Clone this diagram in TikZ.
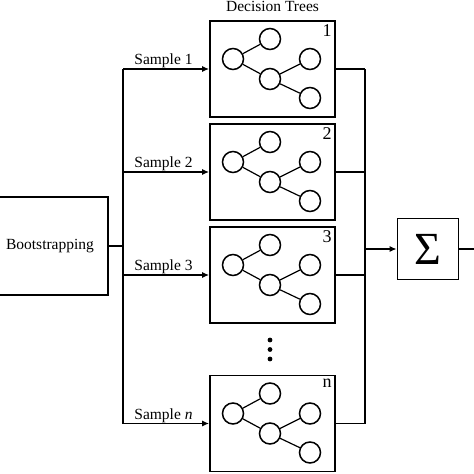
\documentclass[tikz,border=0pt]{standalone}
\usepackage{fontspec}
\setmainfont{Liberation Serif}
\usetikzlibrary{arrows.meta, positioning, calc}

\begin{document}
\begin{tikzpicture}[x=1pt, y=-1pt,
    every node/.style={font=\fontsize{15.5}{17}\selectfont},
    block/.style={draw, line width=1.7pt, inner sep=0pt},
    treebox/.style={block, minimum width=125pt, minimum height=96pt},
    leaf/.style={draw, circle, line width=1.5pt, minimum size=21pt, inner sep=0pt},
    branch/.style={line width=1.2pt},
    wire/.style={line width=1.7pt},
    feed/.style={line width=1.7pt, -{Latex[length=7pt, width=6pt]}}]
  \useasboundingbox (0,0) rectangle (474,474);

  % input block and split bus
  \node[block, minimum width=116pt, minimum height=98pt] (boot) at (50,246) {Bootstrapping};
  \coordinate (split) at (123,246);
  \coordinate (merge) at (365,248);

  % decision trees
  \foreach \name/\yc/\num in {t1/69/1, t2/172/2, t3/275/3, tn/423.5/n} {
    \node[treebox] (\name) at (272.5,\yc) {};
    \node[anchor=north east, inner sep=4pt, font=\fontsize{18}{18}\selectfont] (\name-num) at (\name.north east) {\num};
    \node[leaf] (\name-r) at ($(\name)+(-39.5,-10)$) {};
    \node[leaf] (\name-a) at ($(\name)+(-2.5,-30)$) {};
    \node[leaf] (\name-b) at ($(\name)+(-2.5,10)$) {};
    \node[leaf] (\name-c) at ($(\name)+(37.5,-10)$) {};
    \node[leaf] (\name-d) at ($(\name)+(37.5,29)$) {};
    \draw[branch] (\name-r) -- (\name-a);
    \draw[branch] (\name-r) -- (\name-b);
    \draw[branch] (\name-b) -- (\name-c);
    \draw[branch] (\name-b) -- (\name-d);
  }
  \node[above=5pt of t1] (title) {Decision Trees};

  % vertical dots between tree 3 and tree n
  \foreach \dy in {340,349.5,359}
    \fill (270,\dy) circle (2.4pt);

  % samples
  \draw[wire] (boot.east) -- (split);
  \draw[wire] (t1.west -| split) -- (tn.west -| split);
  \foreach \name/\lab in {t1/Sample 1, t2/Sample 2, t3/Sample 3, tn/Sample \textit{n}}
    \draw[feed] (\name.west -| split) -- node[above, pos=0.47, inner sep=0pt] {\lab} (\name.west);

  % aggregation
  \foreach \name in {t1, t2, t3, tn}
    \draw[wire] (\name.east) -- (\name.east -| merge);
  \draw[wire] (t1.east -| merge) -- (tn.east -| merge);
  \node[block, minimum size=61pt, font=\fontsize{46}{46}\selectfont] (sum) at (428,249) {Σ};
  \draw[feed] (sum.west -| merge) -- (sum.west);
  \coordinate (out) at (480,249);
  \draw[wire] (sum.east) -- (out);
\end{tikzpicture}
\end{document}
